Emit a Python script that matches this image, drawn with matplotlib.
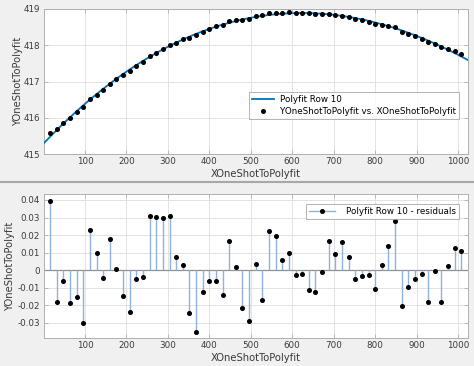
import numpy as np
import matplotlib
matplotlib.use('Agg')
import matplotlib.pyplot as plt
from matplotlib.lines import Line2D

# x positions of samples
xData = [16, 32, 48, 64, 80, 96, 112, 128, 144, 160, 176, 192, 208, 224, 240, 256,
         272, 288, 304, 320, 336, 352, 368, 384, 400, 416, 432, 448, 464, 480, 496,
         512, 528, 544, 560, 576, 592, 608, 624, 640, 656, 672, 688, 704, 720, 736,
         752, 768, 784, 800, 816, 832, 848, 864, 880, 896, 912, 928, 944, 960, 976,
         992, 1008]

# measured y values (top panel)
yData = [415.57, 415.68, 415.86, 416.00, 416.16, 416.29, 416.52, 416.64, 416.77,
         416.93, 417.06, 417.17, 417.29, 417.43, 417.55, 417.69, 417.80, 417.91,
         418.02, 418.07, 418.16, 418.20, 418.28, 418.37, 418.45, 418.52, 418.57,
         418.67, 418.71, 418.70, 418.73, 418.81, 418.83, 418.88, 418.90, 418.90,
         418.91, 418.90, 418.89, 418.88, 418.87, 418.87, 418.87, 418.84, 418.82,
         418.78, 418.73, 418.71, 418.65, 418.59, 418.56, 418.52, 418.49, 418.36,
         418.30, 418.25, 418.18, 418.09, 418.04, 417.95, 417.90, 417.84, 417.76]

# residuals (bottom panel)
resid = [0.0394, -0.0183, -0.0061, -0.0187, -0.0152, -0.0301, 0.0229, 0.0097,
         -0.0044, 0.0175, 0.0008, -0.0149, -0.0240, -0.0053, -0.0040, 0.0309,
         0.0301, 0.0297, 0.0310, 0.0072, 0.0027, -0.0244, -0.0352, -0.0124,
         -0.0061, -0.0061, -0.0141, 0.0164, 0.0019, -0.0217, -0.0291, 0.0034,
         -0.0168, 0.0225, 0.0196, 0.0055, 0.0097, -0.0027, -0.0023, -0.0116,
         -0.0122, -0.0011, 0.0164, 0.0091, 0.0158, 0.0076, -0.0048, -0.0032,
         -0.0027, -0.0107, 0.0029, 0.0135, 0.0282, -0.0206, -0.0099, -0.0050,
         -0.0023, -0.0183, -0.0004, -0.0181, 0.0025, 0.0128, 0.0110]

top_yticks = [415, 416, 417, 418, 419]
bot_yticks = [-0.03, -0.02, -0.01, 0, 0.01, 0.02, 0.03, 0.04]
bot_ylabels = ['-0.03', '-0.02', '-0.01', '0', '0.01', '0.02', '0.03', '0.04']
xticks = [100, 200, 300, 400, 500, 600, 700, 800, 900, 1000]

plt.rcParams['font.family'] = ['DejaVu Sans']
fs = 6.3
bg = '#f0f0f0'
blue = '#0072bd'
axcol = '#3a3a3a'
edge = '#b0b0b0'

fig = plt.figure(figsize=(4.74, 3.66), dpi=100, facecolor=bg)
W, H = 474.0, 366.0

def box(l, t, r, b):
    return [l / W, 1 - b / H, (r - l) / W, (b - t) / H]

ax1 = fig.add_axes(box(43.5, 9, 468, 154))
ax2 = fig.add_axes(box(43.5, 194, 468, 338))

# fit curve from the data
coef = np.polyfit(xData, yData, 3)
xf = np.linspace(0, 1024, 300)
ax1.plot(xf, np.polyval(coef, xf), color=blue, lw=1.3, label='Polyfit Row 10', zorder=3)
ax1.plot(xData, yData, 'o', color='black', ms=2.6, zorder=4,
         label='YOneShotToPolyfit vs. XOneShotToPolyfit')
ax1.set_xlim(0, 1024)
ax1.set_ylim(415, 419)
ax1.set_yticks(top_yticks)

# residuals stem plot
ml, sl, bl = ax2.stem(xData, resid, basefmt=' ')
plt.setp(sl, color='#8fb3d8', lw=1.0)
plt.setp(ml, color='black', ms=2.6)
ax2.axhline(0, color='#909090', lw=0.9, zorder=1)
ax2.set_xlim(0, 1024)
ax2.set_ylim(-0.0387, 0.0434)
ax2.set_yticks(bot_yticks)
ax2.set_yticklabels(bot_ylabels)

for ax in (ax1, ax2):
    ax.set_facecolor('white')
    ax.set_xticks(xticks)
    ax.grid(True, color='#e3e3e3', lw=0.7)
    ax.set_axisbelow(True)
    ax.tick_params(direction='in', length=3, width=0.6, labelsize=fs,
                   colors='#b0b0b0', labelcolor=axcol, pad=2.5, top=True, right=True)
    for s in ax.spines.values():
        s.set_color(edge)
        s.set_linewidth(0.7)
    ax.set_xlabel('XOneShotToPolyfit', fontsize=7.2, color=axcol, labelpad=1.5)
    ax.set_ylabel('YOneShotToPolyfit', fontsize=7.2, color=axcol)

ax1.yaxis.set_label_coords(-0.048, 0.5)
ax2.yaxis.set_label_coords(-0.067, 0.5)

leg1 = ax1.legend(loc='lower right', bbox_to_anchor=(0.978, 0.24), fontsize=fs,
                  frameon=True, fancybox=False, edgecolor='#a0a0a0',
                  handlelength=2.6, borderpad=0.35, labelspacing=0.35,
                  handletextpad=0.6, borderaxespad=0)
leg1.get_frame().set_linewidth(0.7)

stem_handle = Line2D([0], [0], color='#8fb3d8', lw=1.0, marker='o',
                     markevery=[1], mfc='black', mec='black', ms=2.6)
leg2 = ax2.legend([stem_handle], ['Polyfit Row 10 - residuals'], loc='upper right',
                  bbox_to_anchor=(0.978, 0.93), fontsize=fs, frameon=True,
                  fancybox=False, edgecolor='#a0a0a0', handlelength=3.0,
                  borderpad=0.35, handletextpad=1.2, borderaxespad=0)
leg2.get_frame().set_linewidth(0.7)

# separator bar between panels
fig.add_artist(Line2D([0, 1], [1 - 182 / H, 1 - 182 / H], color='#a8a8a8', lw=1.5))

fig.savefig('out.png', dpi=100, facecolor=bg)
